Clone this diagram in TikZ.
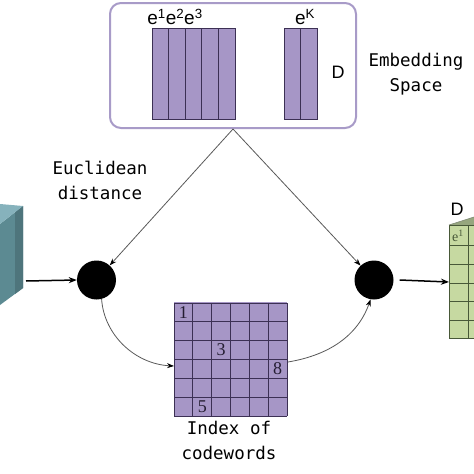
\documentclass[tikz,border=0pt]{standalone}
\usepackage{fontspec}
\setmainfont{Liberation Serif}
\setsansfont{Liberation Sans}
\setmonofont{DejaVu Sans Mono}
\usetikzlibrary{arrows.meta}
\definecolor{purp}{RGB}{166,150,198}
\definecolor{purpline}{RGB}{60,48,84}
\definecolor{boxline}{RGB}{168,155,200}
\definecolor{tealside}{RGB}{92,138,146}
\definecolor{tealtop}{RGB}{134,178,188}
\definecolor{grn}{RGB}{198,217,161}
\definecolor{grnline}{RGB}{72,88,56}
\definecolor{grntop}{RGB}{150,166,126}
\tikzset{
  lbl/.style={font=\fontsize{17.5}{25}\selectfont\ttfamily, align=center, inner sep=0pt},
  sanslbl/.style={font=\fontsize{18}{20}\selectfont\sffamily, inner sep=0pt},
  dot/.style={circle, fill=black, minimum size=39pt, inner sep=0pt},
  thinarrow/.style={draw=black!65, line width=0.8pt, -{Stealth[length=7pt,width=5pt,black]}},
  mainarrow/.style={draw=black, line width=1.5pt, -{Stealth[length=8pt,width=6pt]}},
  barstyle/.style={fill=purp, draw=purpline, line width=0.8pt},
  gridnum/.style={font=\fontsize{18}{18}\selectfont\rmfamily, text=purpline!60!black, inner sep=0pt}
}
\begin{document}
\begin{tikzpicture}[x=1pt,y=-1pt]
\useasboundingbox (0,0) rectangle (474,474);
\fill[white] (0,0) rectangle (474,474);
% embedding space box
\node[draw=boxline, line width=2pt, rounded corners=11pt, minimum width=246pt, minimum height=125pt, inner sep=0pt] (emb) at (233,65.5) {};
\coordinate (apex) at (emb.south);
% bars
\foreach \i in {0,...,4} {
  \draw[barstyle] (152+\i*16.6,28) rectangle (152+\i*16.6+16.6,119);
}
\foreach \i in {0,1} {
  \draw[barstyle] (284+\i*16.5,28) rectangle (284+\i*16.5+16.5,119);
}
\node[sanslbl, font=\fontsize{19}{20}\selectfont\sffamily] (e123) at (175,17) {e\textsuperscript{1}e\textsuperscript{2}e\textsuperscript{3}};
\node[sanslbl, font=\fontsize{19}{20}\selectfont\sffamily] (eK) at (305,17) {e\textsuperscript{K}};
\node[sanslbl] (Dtop) at (338,72) {D};
\node[lbl] (embtxt) at (416,74) {Embedding\\Space};
\node[lbl] (euc) at (100,180) {Euclidean\\distance};
% left cube
\fill[tealside] (0,224) -- (23,206) -- (23,288) -- (0,305) -- cycle;
\fill[tealside!85!black] (15,212) -- (23,206) -- (23,288) -- (15,294) -- cycle;
\fill[tealtop] (0,204) -- (23,206) -- (0,224) -- cycle;
\coordinate (cubeR) at (26,281);
% circles
\node[dot] (c1) at (96.5,280) {};
\node[dot] (c2) at (374,280) {};
% codeword grid
\node[minimum width=113pt, minimum height=113pt, inner sep=0pt] (grid) at (230.5,359) {};
\fill[purp] (grid.north west) rectangle (grid.south east);
\foreach \k in {0,...,6} {
  \draw[purpline, line width=0.8pt] (174+\k*18.83,303) -- (174+\k*18.83,416);
  \draw[purpline, line width=0.8pt] (174,303+\k*18.83) -- (287,303+\k*18.83);
}
\node[gridnum] (n1) at (183.4,312.4) {1};
\node[gridnum] (n3) at (221.1,350.1) {3};
\node[gridnum] (n8) at (277.6,369.0) {8};
\node[gridnum] (n5) at (202.3,406.6) {5};
\node[lbl] (idx) at (229,440) {Index of\\codewords};
% green block
\fill[grn] (449,225) rectangle (474,338);
\fill[grntop] (449,225) -- (474,217) -- (474,225) -- cycle;
\foreach \yy in {225,245,264,283,301,320,338} {
  \draw[grnline, line width=0.8pt] (449,\yy) -- (474,\yy);
}
\draw[grnline, line width=0.8pt] (449,225) -- (449,338);
\draw[grnline, line width=0.8pt] (468,225) -- (468,338);
\draw[grnline!70, line width=0.6pt] (449,225) -- (474,217);
\node[font=\fontsize{14}{14}\selectfont\rmfamily, text=grnline, inner sep=0pt] (e1g) at (458,236) {e\textsuperscript{1}};
\node[sanslbl] (Dg) at (457,209) {D};
\coordinate (green) at (449,282);
% connectors
\draw[thinarrow] (apex) -- (c1);
\draw[thinarrow] (apex) -- (c2);
\draw[mainarrow] (cubeR) -- (c1.west);
\draw[mainarrow] (c2.east) ++(6,0) coordinate (c2out) -- (green);
\coordinate (gridin) at (174,366);
\coordinate (gridout) at (288,362);
\draw[thinarrow] (c1.-75) .. controls (104,335) and (135,364) .. (gridin);
\draw[thinarrow] (gridout) .. controls (330,355) and (358,335) .. (c2.-100);
\end{tikzpicture}
\end{document}
